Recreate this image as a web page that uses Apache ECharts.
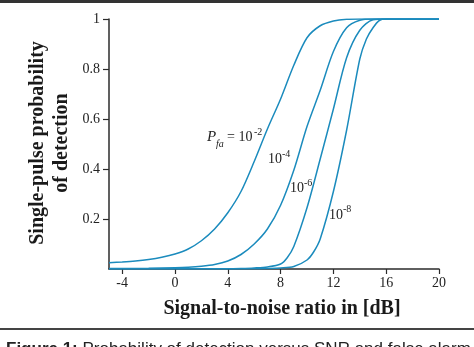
<!DOCTYPE html>
<html>
<head>
<meta charset="utf-8">
<script src="https://cdn.jsdelivr.net/npm/echarts@6/dist/echarts.min.js"></script>
<style>html,body{margin:0;padding:0;background:#fff}#c{width:474px;height:347px}</style>
</head>
<body>
<div id="c"></div>
<script>
// Data (SNR in dB, probability of detection)
const pfa2 = [[-5,0.025],[-4,0.028],[-3,0.032],[-2,0.038],[-1,0.047],[0,0.06],[1,0.08],[2,0.113],[3,0.16],[4,0.225],[5,0.31],[6,0.43],[7,0.56],[8,0.68],[9,0.815],[10,0.925],[11,0.973],[12,0.992],[13,0.999],[14,1],[20,1]];
const pfa4 = [[-5,0.002],[-2,0.003],[0,0.005],[1,0.007],[2,0.011],[3,0.018],[4,0.032],[5,0.058],[6,0.1],[7,0.16],[8,0.255],[9,0.395],[10,0.57],[11,0.715],[12,0.87],[13,0.965],[14,0.995],[15,1],[20,1]];
const pfa6 = [[-5,0.001],[4,0.001],[5,0.002],[6,0.004],[7,0.008],[8,0.02],[8.5,0.045],[9,0.09],[10,0.245],[11,0.44],[12,0.64],[13,0.845],[14,0.955],[15,0.997],[16,1],[20,1]];
const pfa8 = [[-5,0.001],[6,0.001],[7,0.002],[8,0.004],[9,0.01],[10,0.036],[10.5,0.068],[11,0.12],[12,0.31],[13,0.555],[14,0.84],[14.5,0.92],[15,0.965],[15.5,0.995],[16,1],[20,1]];
const xTicks = [-4,0,4,8,12,16,20];
const yTicks = [0.2,0.4,0.6,0.8,1];
const xTitle = 'Signal-to-noise ratio in [dB]';
const yTitle = 'Single-pulse probability\nof detection';
const caption = 'Probability of detection versus SNR and false alarm probability';

const lineColor = '#1b8bbd';
const axisColor = '#2b2b2b';
const serif = '"Liberation Serif", "DejaVu Serif", serif';

function mkSeries(name, data) {
  return {
    name, type: 'line', data, showSymbol: false, smooth: 0.3,
    lineStyle: { color: lineColor, width: 1.5 }, silent: true
  };
}

const chart = echarts.init(document.getElementById('c'), null, { renderer: 'canvas' });
chart.setOption({
  animation: false,
  backgroundColor: '#fff',
  grid: { left: 109, right: 35, top: 19, bottom: 78 },
  xAxis: {
    type: 'value', min: -5, max: 20,
    axisLine: { onZero: false, lineStyle: { color: axisColor, width: 1.5 } },
    axisTick: { show: true, length: 5, lineStyle: { color: axisColor, width: 1.2 }, customValues: xTicks },
    axisLabel: { customValues: xTicks, margin: 7, color: '#222', fontFamily: serif, fontSize: 14 },
    splitLine: { show: false }
  },
  yAxis: {
    type: 'value', min: 0, max: 1,
    axisLine: { show: true, onZero: false, lineStyle: { color: axisColor, width: 1.5 } },
    axisTick: { show: true, length: 6, lineStyle: { color: axisColor, width: 1.2 }, customValues: yTicks },
    axisLabel: { customValues: yTicks, margin: 9, color: '#222', fontFamily: serif, fontSize: 14 },
    splitLine: { show: false }
  },
  series: [mkSeries('1e-2', pfa2), mkSeries('1e-4', pfa4), mkSeries('1e-6', pfa6), mkSeries('1e-8', pfa8)],
  graphic: [
    { type: 'rect', shape: { x: 0, y: 0, width: 474, height: 3 }, style: { fill: '#333' } },
    { type: 'rect', shape: { x: 0, y: 328, width: 474, height: 2 }, style: { fill: '#444' } },
    { type: 'text', x: 50, y: 143, rotation: Math.PI / 2,
      style: { text: yTitle, align: 'center', verticalAlign: 'middle', font: 'bold 20px ' + serif, lineHeight: 24, fill: '#1a1a1a' } },
    { type: 'text', x: 282, y: 309,
      style: { text: xTitle, align: 'center', verticalAlign: 'middle', font: 'bold 20px ' + serif, fill: '#1a1a1a' } },
    // P_fa = 10^-2
    { type: 'text', x: 207, y: 137, style: { text: 'P', align: 'left', verticalAlign: 'middle', font: 'italic 15px ' + serif, fill: '#222' } },
    { type: 'text', x: 216, y: 144, style: { text: 'fa', align: 'left', verticalAlign: 'middle', font: 'italic 10px ' + serif, fill: '#222' } },
    { type: 'text', x: 227, y: 137, style: { text: '= 10', align: 'left', verticalAlign: 'middle', font: '14px ' + serif, fill: '#222' } },
    { type: 'text', x: 254, y: 132, style: { text: '-2', align: 'left', verticalAlign: 'middle', font: '10px ' + serif, fill: '#222' } },
    // 10^-4
    { type: 'text', x: 268, y: 159, style: { text: '10', align: 'left', verticalAlign: 'middle', font: '14px ' + serif, fill: '#222' } },
    { type: 'text', x: 282, y: 154, style: { text: '-4', align: 'left', verticalAlign: 'middle', font: '10px ' + serif, fill: '#222' } },
    // 10^-6
    { type: 'text', x: 290, y: 188, style: { text: '10', align: 'left', verticalAlign: 'middle', font: '14px ' + serif, fill: '#222' } },
    { type: 'text', x: 304, y: 183, style: { text: '-6', align: 'left', verticalAlign: 'middle', font: '10px ' + serif, fill: '#222' } },
    // 10^-8
    { type: 'text', x: 329, y: 215, style: { text: '10', align: 'left', verticalAlign: 'middle', font: '14px ' + serif, fill: '#222' } },
    { type: 'text', x: 343, y: 209, style: { text: '-8', align: 'left', verticalAlign: 'middle', font: '10px ' + serif, fill: '#222' } },
    // clipped caption
    { type: 'text', x: 6, y: 341,
      style: { text: '{b|Figure 1:} ' + caption, align: 'left', verticalAlign: 'top', font: '17px "Liberation Sans", Arial, sans-serif', fill: '#222',
        rich: { b: { fontWeight: 'bold', fontSize: 17, fontFamily: '"Liberation Sans", Arial, sans-serif' } } } }
  ]
});
</script>
</body>
</html>
